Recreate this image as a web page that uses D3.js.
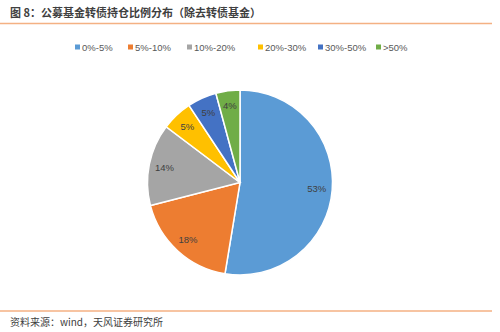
<!DOCTYPE html>
<html>
<head>
<meta charset="utf-8">
<script src="https://cdn.jsdelivr.net/npm/d3@7"></script>
<style>
  body { margin: 0; background: #fff; }
  svg { display: block; }
</style>
</head>
<body>
<div id="graphicContainer"></div>
<script>
var categories = ["0%-5%", "5%-10%", "10%-20%", "20%-30%", "30%-50%", ">50%"]
var values = [52.6, 18.4, 14.3, 5.4, 5.1, 4.2]
var colors = ["#5B9BD5", "#ED7D31", "#A5A5A5", "#FFC000", "#4472C4", "#70AD47"]
var legendX = [75, 128, 187, 258, 318, 376]

var width = 500
var height = 332
var cx = 240, cy = 182.5, r = 92.5

const svg = d3.select("#graphicContainer")
  .append("svg")
  .attr("width", width)
  .attr("height", height)
  .style("font-family", "'Noto Sans CJK SC', 'Liberation Sans', sans-serif")

// title and rules
svg.append("text")
  .attr("x", 10)
  .attr("y", 17)
  .attr("fill", "#404040")
  .style("font-size", "11px")
  .style("font-weight", "bold")
  .text("图 8：公募基金转债持仓比例分布（除去转债基金）")

svg.append("line")
  .attr("x1", 0).attr("x2", 492)
  .attr("y1", 23.5).attr("y2", 23.5)
  .attr("stroke", "#F4B183")
  .attr("stroke-width", 1.5)

svg.append("line")
  .attr("x1", 0).attr("x2", 492)
  .attr("y1", 311).attr("y2", 311)
  .attr("stroke", "#F4B183")
  .attr("stroke-width", 1.5)

svg.append("text")
  .attr("x", 10)
  .attr("y", 326)
  .attr("fill", "#404040")
  .style("font-size", "10px")
  .text("资料来源：wind，天风证券研究所")

// legend
var color = d3.scaleOrdinal().domain(categories).range(colors)

var legend = svg.selectAll(".legend")
  .data(categories)
  .join("g")
  .attr("class", "legend")
  .attr("transform", function (d, i) {
    return "translate(" + legendX[i] + ",47)"
  })

legend.append("rect")
  .attr("x", 0).attr("y", -2.5)
  .attr("width", 5).attr("height", 5)
  .attr("fill", d => color(d))

legend.append("text")
  .attr("x", 7)
  .attr("y", 3.5)
  .attr("fill", "#595959")
  .style("font-size", "9.5px")
  .style("font-family", "'Liberation Sans', sans-serif")
  .text(d => d)

// pie
var pie = d3.pie().sort(null).value(d => d.value)
var data = categories.map(function (c, i) {
  return { name: c, value: values[i] }
})

var arc = d3.arc().innerRadius(0).outerRadius(r)
var labelArc = d3.arc().innerRadius(77).outerRadius(77)

var g = svg.append("g")
  .attr("transform", "translate(" + cx + "," + cy + ")")

g.selectAll("path")
  .data(pie(data))
  .join("path")
  .attr("d", arc)
  .attr("fill", d => color(d.data.name))
  .attr("stroke", "#fff")
  .attr("stroke-width", 1.5)

g.selectAll(".lbl")
  .data(pie(data))
  .join("text")
  .attr("class", "lbl")
  .attr("transform", d => "translate(" + labelArc.centroid(d) + ")")
  .attr("text-anchor", "middle")
  .attr("dy", "0.35em")
  .attr("fill", "#404040")
  .style("font-size", "9.5px")
  .style("font-family", "'Liberation Sans', sans-serif")
  .text(d => Math.round(d.data.value) + "%")
</script>
</body>
</html>
